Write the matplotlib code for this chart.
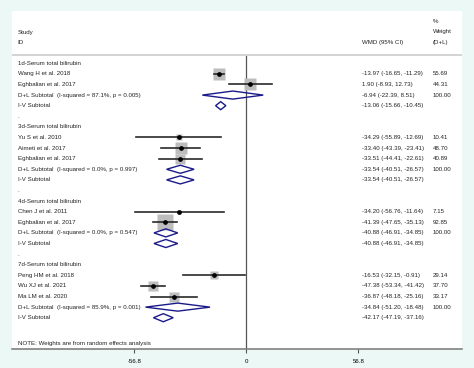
import matplotlib
matplotlib.use("Agg")
import matplotlib.pyplot as plt
from matplotlib.patches import Polygon

plt.rcParams['font.family'] = ['Liberation Sans', 'DejaVu Sans']

# ---- data ----
group_titles = ["1d-Serum total bilirubin", "3d-Serum total bilirubin",
                "4d-Serum total bilirubin", "7d-Serum total bilirubin"]

study_group = [0, 0, 1, 1, 1, 2, 2, 3, 3, 3]
study_labels = ["Wang H et al. 2018", "Eghbalian et al. 2017",
                "Yu S et al. 2010", "Aimeti et al. 2017", "Eghbalian et al. 2017",
                "Chen J et al. 2011", "Eghbalian et al. 2017",
                "Peng HM et al. 2018", "Wu XJ et al. 2021", "Ma LM et al. 2020"]
study_wmd = [-13.97, 1.90, -34.29, -33.40, -33.51, -34.20, -41.39, -16.53, -47.38, -36.87]
study_lo = [-16.65, -8.93, -55.89, -43.39, -44.41, -56.76, -47.65, -32.15, -53.34, -48.18]
study_hi = [-11.29, 12.73, -12.69, -23.41, -22.61, -11.64, -35.13, -0.91, -41.42, -25.16]
study_weight = [55.69, 44.31, 10.41, 48.70, 40.89, 7.15, 92.85, 29.14, 37.70, 33.17]

dl_isq = ["87.1%", "0.0%", "0.0%", "85.9%"]
dl_p = ["0.005", "0.997", "0.547", "0.001"]
dl_wmd = [-6.94, -33.54, -40.88, -34.84]
dl_lo = [-22.39, -40.51, -46.91, -51.20]
dl_hi = [8.51, -26.57, -34.85, -18.48]

iv_wmd = [-13.06, -33.54, -40.88, -42.17]
iv_lo = [-15.66, -40.51, -46.91, -47.19]
iv_hi = [-10.45, -26.57, -34.85, -37.16]

x_ticks = [-56.8, 0, 56.8]

# ---- layout ----
bg = '#ecf8f6'
navy = '#1a1a8a'
fs = 4.4

fig = plt.figure(figsize=(4.74, 3.68), dpi=100, facecolor=bg)
ax = fig.add_axes([12 / 474, 19 / 368, 450 / 474, 338 / 368])
ax.set_facecolor('white')
ax.set_xlim(-118.9, 109.3)
ax.set_ylim(26.95, -4.93)

for s in ['top', 'right', 'left']:
    ax.spines[s].set_visible(False)
ax.spines['bottom'].set_color('#777777')
ax.spines['bottom'].set_linewidth(1.1)
ax.set_yticks([])
ax.set_xticks(x_ticks)
ax.set_xticklabels([f"{t:g}" for t in x_ticks], fontsize=fs)
ax.tick_params(axis='x', length=3, width=0.8, color='#555555', pad=4)

tx = ax.get_yaxis_transform()
xl, xn, xw = 0.013, 0.778, 0.935

def txt(x, y, s):
    ax.text(x, y, s, transform=tx, fontsize=fs, va='center', ha='left', color='#222222')

# header
txt(xl, -2.86, "Study")
txt(xl, -1.92, "ID")
txt(xn, -1.92, "WMD (95% CI)")
txt(xw, -3.9, "%")
txt(xw, -2.95, "Weight")
txt(xw, -1.92, "(D+L)")
ax.axhline(-0.78, color='#d4d4d4', lw=1.4)
ax.plot([0, 0], [-0.78, 26.95], color='#555555', lw=0.9, zorder=1)

row = 0
for g, title in enumerate(group_titles):
    if g > 0:
        txt(xl, row, ".")
        row += 1
    txt(xl, row, title)
    row += 1
    for i in range(len(study_labels)):
        if study_group[i] != g:
            continue
        txt(xl, row, study_labels[i])
        txt(xn, row, f"{study_wmd[i]:.2f} ({study_lo[i]:.2f}, {study_hi[i]:.2f})")
        txt(xw, row, f"{study_weight[i]:.2f}")
        ax.plot(study_wmd[i], row, marker='s', color='#bdbdbd', mec='none',
                ms=1.2 * study_weight[i] ** 0.5, zorder=2)
        ax.plot([study_lo[i], study_hi[i]], [row, row], color='#2a2a2a', lw=1.2, zorder=3)
        ax.plot(study_wmd[i], row, marker='o', color='black', ms=2.4, zorder=4)
        row += 1
    # D+L subtotal
    txt(xl, row, f"D+L Subtotal  (I-squared = {dl_isq[g]}, p = {dl_p[g]})")
    txt(xn, row, f"{dl_wmd[g]:.2f} ({dl_lo[g]:.2f}, {dl_hi[g]:.2f})")
    txt(xw, row, "100.00")
    h = 0.38
    ax.add_patch(Polygon([(dl_lo[g], row), (dl_wmd[g], row - h), (dl_hi[g], row),
                          (dl_wmd[g], row + h)], closed=True, fill=False,
                         edgecolor=navy, lw=1.0, zorder=3))
    row += 1
    # I-V subtotal
    txt(xl, row, "I-V Subtotal")
    txt(xn, row, f"{iv_wmd[g]:.2f} ({iv_lo[g]:.2f}, {iv_hi[g]:.2f})")
    ax.add_patch(Polygon([(iv_lo[g], row), (iv_wmd[g], row - h), (iv_hi[g], row),
                          (iv_wmd[g], row + h)], closed=True, fill=False,
                         edgecolor=navy, lw=1.0, zorder=3))
    row += 1

txt(xl, row + 1.4, "NOTE: Weights are from random effects analysis")

fig.savefig("out.png", dpi=100, facecolor=bg)
